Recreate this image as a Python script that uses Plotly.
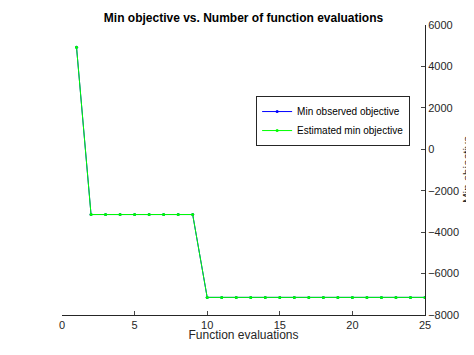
import plotly.graph_objects as go

evals = list(range(1, 26))
min_observed = [4930] + [-3150] * 8 + [-7150] * 16
est_min = [4930] + [-3150] * 8 + [-7150] * 16

x_ticks = [0, 5, 10, 15, 20, 25]
y_ticks = [-8000, -6000, -4000, -2000, 0, 2000, 4000, 6000]

fig = go.Figure()
fig.add_trace(go.Scatter(x=evals, y=min_observed, mode="lines+markers",
                         name="Min observed objective",
                         line=dict(color="#0000ff", width=1),
                         marker=dict(size=3, color="#0000ff")))
fig.add_trace(go.Scatter(x=evals, y=est_min, mode="lines+markers",
                         name="Estimated min objective",
                         line=dict(color="#00ff00", width=1),
                         marker=dict(size=3, color="#00ff00")))

W, H = 466, 334
L, R, T, B = 54, 49, 17, 27
font = "Liberation Sans, Arial, sans-serif"
fig.update_layout(
    width=W, height=H,
    margin=dict(l=L, r=R, t=T, b=B, autoexpand=False),
    paper_bgcolor="white", plot_bgcolor="white",
    font=dict(family=font, size=11, color="#262626"),
    title=dict(text="<b>Min objective vs. Number of function evaluations</b>",
               x=(L + W - R) / 2 / W, xanchor="center", y=1 - 10 / H, yanchor="middle",
               font=dict(size=12, color="black")),
    showlegend=True,
    legend=dict(x=0.959, xanchor="right", y=0.755, yanchor="top",
                bordercolor="#262626", borderwidth=1, bgcolor="white",
                font=dict(size=10, color="black"), tracegroupgap=0,
                itemwidth=30),
    xaxis=dict(range=[0, 25], tickvals=x_ticks, ticks="inside", ticklen=4,
               showline=True, linecolor="#262626", linewidth=1, showgrid=False,
               zeroline=False, automargin=False, tickfont=dict(size=11, color="#262626"),
               title=dict(text="Function evaluations", font=dict(size=12, color="#262626"),
                          standoff=2)),
    yaxis=dict(range=[-8000, 6000], tickvals=y_ticks, side="right", ticks="inside",
               ticklen=4, showline=True, linecolor="#262626", linewidth=1,
               showgrid=False, zeroline=False, automargin=False,
               tickfont=dict(size=11, color="#262626")),
    annotations=[dict(text="Min objective", xref="paper", yref="paper",
                      x=(459 - L) / (W - L - R), y=0.5, xanchor="center", yanchor="middle",
                      textangle=-90, showarrow=False, borderpad=0,
                      font=dict(size=11.5, color="#262626"))],
)

fig.write_html("out.html")
